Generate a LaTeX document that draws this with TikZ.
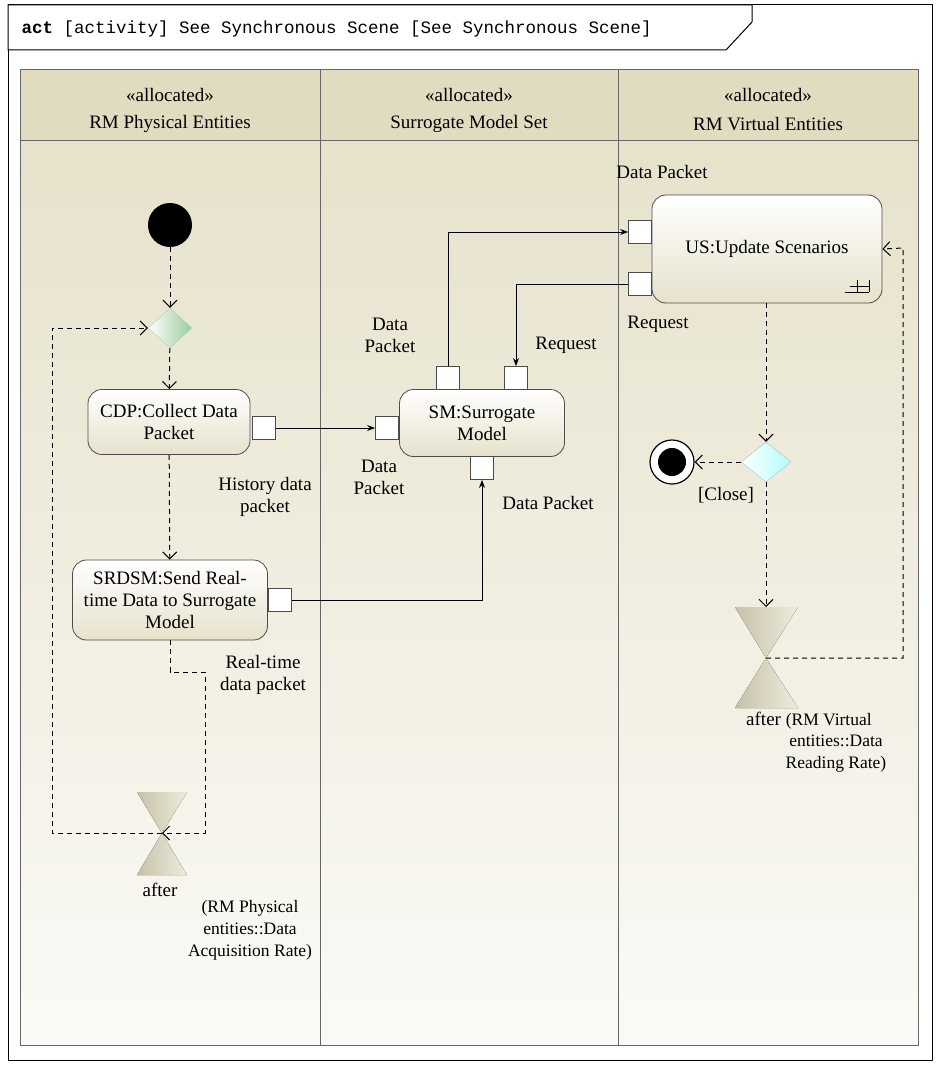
\documentclass[tikz,border=0pt]{standalone}
\usepackage{fontspec}
\setmainfont{Liberation Serif}
\setmonofont{Liberation Mono}
\usetikzlibrary{arrows.meta,shapes.geometric}
\definecolor{tan}{RGB}{200,190,140}
\begin{document}
\begin{tikzpicture}[x=1pt,y=-1pt,
  every node/.style={font=\fontsize{19}{22}\selectfont, align=center},
  act/.style={draw=black!70, rounded corners=14pt, top color=white, bottom color=tan!45!white, line width=0.8pt},
  pin/.style={draw=black!70, fill=white, minimum size=23pt, inner sep=0pt, line width=0.8pt},
  flow/.style={line width=1pt, -{Stealth[length=8pt]}},
  ctrl/.style={line width=1pt, dash pattern=on 5pt off 4pt, -{Straight Barb[length=7pt]}},
  lbl/.style={inner sep=1pt}]
\useasboundingbox (0,0) rectangle (940,1065);
\fill[white] (0,0) rectangle (940,1065);
% frames
\draw[line width=1pt] (8,5) rectangle (932,1060);
\draw[line width=1pt, fill=white] (8,5) -- (752,5) -- (752,22) -- (726,50) -- (8,50) -- cycle;
\node[anchor=west, font=\ttfamily\fontsize{17.5}{20}\selectfont] (title) at (18,29) {\textbf{act} [activity] See Synchronous Scene [See Synchronous Scene]};
% lanes
\foreach \a/\b in {20/320,320/618,618/918}{
  \shade[top color=tan!45!white, bottom color=tan!8!white] (\a,140) rectangle (\b,1045);
  \fill[tan!55!white] (\a,70) rectangle (\b,140);
  \draw[black!60, line width=1pt] (\a,70) rectangle (\b,1045);
  \draw[black!60, line width=1pt] (\a,140) -- (\b,140);
}
\node (h1a) at (170,95) {«allocated»}; \node (h1b) at (170,124) {RM Physical Entities};
\node (h2a) at (469,95) {«allocated»}; \node (h2b) at (469,124) {Surrogate Model Set};
\node (h3a) at (768,95) {«allocated»}; \node (h3b) at (768,124) {RM Virtual Entities};
% lane 1
\node[circle, fill=black, minimum size=44pt, inner sep=0pt] (init) at (170,225) {};
\node[diamond, minimum width=44pt, minimum height=40pt, inner sep=0pt, draw=green!40!black!30, left color=white, right color=green!50!black!40] (dec1) at (170,328) {};
\node[act, minimum width=162pt, minimum height=65pt] (cdp) at (169,422) {CDP:Collect Data\\Packet};
\node[pin] (cdpp) at (264,428) {};
\node[act, minimum width=195pt, minimum height=80pt] (srd) at (170,600) {SRDSM:Send Real-\\time Data to Surrogate\\Model};
\node[pin] (srdp) at (280,600) {};
\coordinate (hg1) at (162,833);
\fill[left color=tan!80!black!60, right color=tan!30!white] (137,792) -- (187,792) -- (hg1) -- cycle;
\fill[left color=tan!80!black!60, right color=tan!30!white] (137,875) -- (187,875) -- (hg1) -- cycle;
\draw[ctrl] (init) -- (dec1);
\draw[ctrl] (dec1) -- (cdp);
\draw[ctrl] (cdp) -- (srd);
\draw[ctrl] (srd.south) -- (170,672) -- (205,672) -- (205,833) -- (hg1);
\draw[ctrl] (hg1) -- (52,833) -- (52,328) -- (dec1.west);
\node[lbl] (l1) at (265,497) {History data\\packet};
\node[lbl] (l2) at (263,675) {Real-time\\data packet};
\node[lbl] (l3) at (160,890) {after};
\node[lbl, font=\fontsize{17.5}{22}\selectfont] (l4) at (250,930) {(RM Physical\\entities::Data\\Acquisition Rate)};
% lane 2
\node[act, minimum width=165pt, minimum height=67pt] (sm) at (482,423) {SM:Surrogate\\Model};
\node[pin] (smL) at (387,428) {};
\node[pin] (smT1) at (448,378) {};
\node[pin] (smT2) at (516,378) {};
\node[pin] (smB) at (482,468) {};
\draw[flow] (cdpp) -- (smL);
\draw[flow] (srdp) -- (482,600) -- (smB);
\node[lbl] (l5) at (390,335) {Data\\Packet};
\node[lbl] (l6) at (566,345) {Request};
\node[lbl] (l7) at (379,477) {Data\\Packet};
\node[lbl] (l8) at (548,503) {Data Packet};
% lane 3
\node[act, minimum width=230pt, minimum height=108pt] (us) at (767,249) {US:Update Scenarios};
\node[pin] (usp1) at (640,232) {};
\node[pin] (usp2) at (640,284) {};
\draw[line width=1pt] (845,292) -- (869,292) (857,292) -- (857,280) (869,292) -- (869,280) (850,286) -- (869,286);
\draw[flow] (smT1) -- (448,232) -- (usp1);
\draw[flow] (usp2) -- (516,284) -- (smT2);
\node[lbl] (l9) at (662,172) {Data Packet};
\node[lbl] (l10) at (658,324) {Request};
\node[diamond, minimum width=50pt, minimum height=40pt, inner sep=0pt, draw=cyan!40!black!40, left color=white, right color=cyan!30] (dec2) at (766,462) {};
\node[circle, draw=black, line width=1.2pt, fill=white, minimum size=44pt, inner sep=0pt] (fin) at (672,462) {};
\node[circle, fill=black, minimum size=28pt, inner sep=0pt] (finin) at (fin) {};
\coordinate (hg2) at (766,658);
\fill[left color=tan!80!black!60, right color=tan!30!white] (735,607) -- (798,607) -- (hg2) -- cycle;
\fill[left color=tan!80!black!60, right color=tan!30!white] (735,708) -- (798,708) -- (hg2) -- cycle;
\draw[ctrl] (766,303) -- (dec2);
\draw[ctrl] (dec2) -- (fin);
\draw[ctrl] (dec2) -- (766,607);
\draw[ctrl] (hg2) -- (903,658) -- (903,248) -- (us.east);
\node[lbl] (l11) at (726,495) {[Close]};
\node[lbl, anchor=north west] (l12) at (745,711) {after \fontsize{17.5}{22}\selectfont(RM Virtual};
\node[lbl, anchor=north, font=\fontsize{17.5}{22}\selectfont] (l13) at (836,734) {entities::Data\\Reading Rate)};
\end{tikzpicture}
\end{document}
